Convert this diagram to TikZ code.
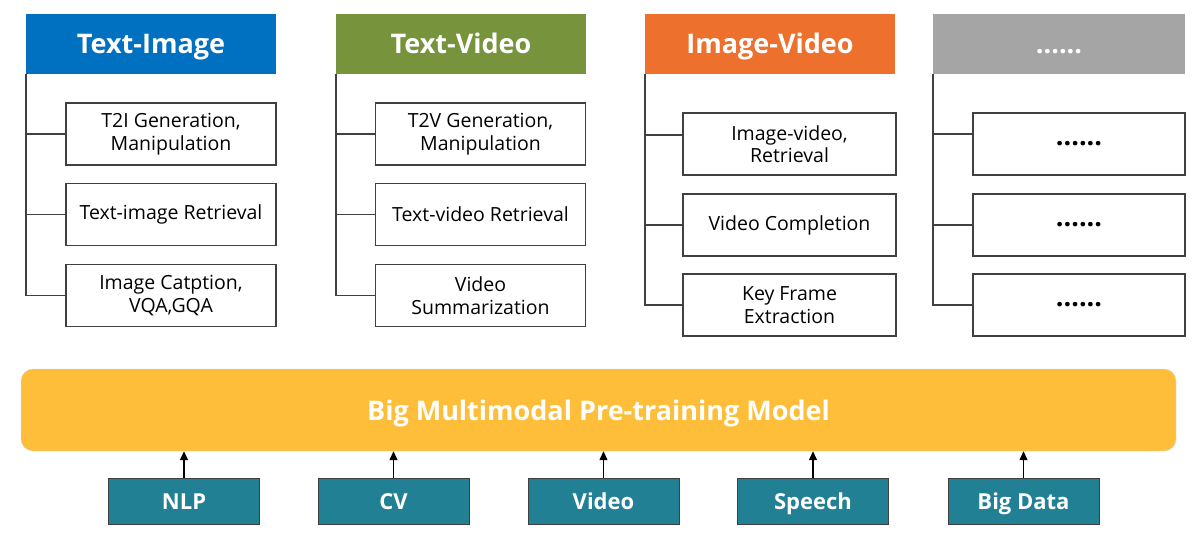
\documentclass[tikz,border=0pt]{standalone}
\usepackage{fontspec}
\setmainfont{Open Sans}
\usetikzlibrary{arrows.meta, positioning, calc}
\definecolor{tiblue}{RGB}{0,112,192}
\definecolor{tvgreen}{RGB}{119,147,60}
\definecolor{ivorange}{RGB}{237,112,45}
\definecolor{moregray}{RGB}{165,165,165}
\definecolor{modelyellow}{RGB}{254,190,58}
\definecolor{srcteal}{RGB}{33,128,148}
\definecolor{linegray}{RGB}{64,64,64}

\begin{document}
\begin{tikzpicture}[x=1pt, y=-1pt,
    every node/.style={inner sep=0pt},
    head/.style={rectangle, fill=#1, minimum width=250pt, minimum height=60pt, text height=21.6pt, text depth=1.6pt, text=white, font=\fontsize{27}{30}\selectfont\bfseries},
    task/.style={rectangle, draw=linegray, line width=1.4pt, fill=white, minimum width=210pt, minimum height=62pt, align=center, font=\fontsize{19.5}{22.5}\selectfont},
    src/.style={rectangle, draw=black!75, line width=1pt, fill=srcteal, minimum width=151pt, minimum height=46pt, text height=17.6pt, text depth=1.3pt, text=white, font=\fontsize{22}{24}\selectfont\bfseries},
    branch/.style={draw=linegray, line width=1.4pt},
    arrow/.style={-{Triangle[length=9pt,width=8pt]}, line width=1.3pt, black},
    dots/.style={font=\fontsize{27}{30}\selectfont\bfseries}
]
\useasboundingbox (0,0) rectangle (1196,534);

% task groups
\node[head=tiblue] (hTI) at (151,44) {Text-Image};
\node[head=tvgreen] (hTV) at (461,44) {Text-Video};
\node[head=ivorange] (hIV) at (770,44) {Image-Video};
\node[head=moregray, minimum width=252pt] (hMore) at (1059,44) {......};

\node[task] (ti1) at (171,134) {T2I Generation,\\Manipulation};
\node[task] (ti2) at (171,214.5) {Text-image Retrieval};
\node[task] (ti3) at (171,295.5) {Image Catption,\\VQA,GQA};

\node[task] (tv1) at (480.5,134) {T2V Generation,\\Manipulation};
\node[task] (tv2) at (480.5,214.5) {Text-video Retrieval};
\node[task] (tv3) at (480.5,295.5) {Video\\Summarization};

\node[task, minimum width=213pt] (iv1) at (789.5,144) {Image-video,\\Retrieval};
\node[task, minimum width=213pt] (iv2) at (789.5,225) {Video Completion};
\node[task, minimum width=213pt] (iv3) at (789.5,305) {Key Frame\\Extraction};

\node[task, dots, minimum width=212pt] (mo1) at (1079,144) {......};
\node[task, dots, minimum width=212pt] (mo2) at (1079,225) {......};
\node[task, dots, minimum width=212pt] (mo3) at (1079,305) {......};

\draw[branch] (hTI.south west) |- (ti1.west);
\draw[branch] (hTI.south west) |- (ti2.west);
\draw[branch] (hTI.south west) |- (ti3.west);
\draw[branch] (hTV.south west) |- (tv1.west);
\draw[branch] (hTV.south west) |- (tv2.west);
\draw[branch] (hTV.south west) |- (tv3.west);
\draw[branch] (hIV.south west) |- ([yshift=9pt]iv1.west);
\draw[branch] (hIV.south west) |- (iv2.west);
\draw[branch] (hIV.south west) |- (iv3.west);
\draw[branch] (hMore.south west) |- ([yshift=10pt]mo1.west);
\draw[branch] (hMore.south west) |- (mo2.west);
\draw[branch] (hMore.south west) |- (mo3.west);

% pre-training model and its sources
\node[rectangle, rounded corners=12pt, fill=modelyellow, draw=black!15, minimum width=1155pt, minimum height=82pt, text height=21.6pt, text depth=1.6pt, text=white, font=\fontsize{27}{30}\selectfont\bfseries] (model) at (598.5,410) {Big Multimodal Pre-training Model};

\foreach \name/\lbl/\x in {nlp/NLP/184, cv/CV/393.5, vid/Video/603.5, sp/Speech/813, bd/Big Data/1023.5} {
    \node[src] (\name) at (\x,501) {\lbl};
    \draw[arrow] (\name.north) -- (\name.north |- model.south);
}

\end{tikzpicture}
\end{document}
